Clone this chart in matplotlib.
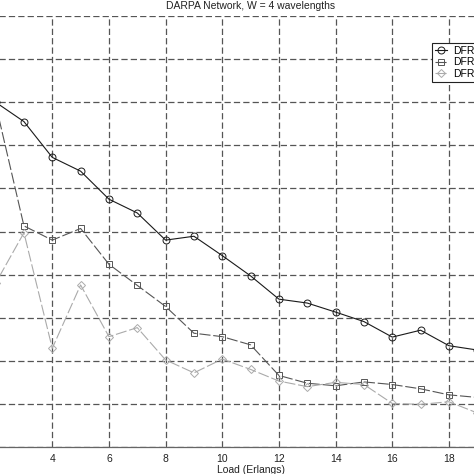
import numpy as np
import matplotlib
matplotlib.use('Agg')
import matplotlib.pyplot as plt

plt.rcParams['font.family'] = ['Liberation Sans', 'DejaVu Sans']

load = [2, 3, 4, 5, 6, 7, 8, 9, 10, 11, 12, 13, 14, 15, 16, 17, 18, 19, 20]
series_a = [8.0, 7.55, 6.72, 6.40, 5.75, 5.43, 4.80, 4.89, 4.44, 3.97,
            3.43, 3.34, 3.13, 2.91, 2.55, 2.71, 2.35, 2.25, 2.1]
series_b = [7.96, 5.13, 4.80, 5.07, 4.24, 3.75, 3.26, 2.64, 2.56, 2.37,
            1.66, 1.48, 1.42, 1.51, 1.45, 1.35, 1.21, 1.15, 1.1]
series_c = [3.8, 4.97, 2.29, 3.76, 2.56, 2.77, 2.02, 1.72, 2.04, 1.80,
            1.53, 1.40, 1.50, 1.45, 1.01, 0.99, 1.05, 0.79, 0.7]
labels = ['DFR', 'DFR-SP', 'DFR-LU']
xtick_vals = [2, 4, 6, 8, 10, 12, 14, 16, 18, 20]
# the picture is a crop: the first and last tick labels fall outside it
xtick_labels = ['', '4', '6', '8', '10', '12', '14', '16', '18', '']

fig = plt.figure(figsize=(4.74, 4.74), dpi=100)
W, H = 474.0, 474.0
# axes extends past the left/right of the (cropped) picture
ax = fig.add_axes([-4.4 / W, 27 / H, 510 / W, 431 / H])

ax.plot(load, series_a, color='#1a1a1a', lw=0.8, marker='o', ms=5,
        mfc='none', mec='#1a1a1a', mew=0.7, label=labels[0])
ax.plot(load, series_b, color='#555555', lw=0.8, ls=(0, (10, 2.5)), marker='s', ms=4.5,
        mfc='none', mec='#555555', mew=0.7, label=labels[1])
ax.plot(load, series_c, color='#aaaaaa', lw=0.8, ls=(0, (10, 2.5)), marker='D', ms=3.8,
        mfc='none', mec='#aaaaaa', mew=0.7, label=labels[2])

ax.set_xlim(2, 20)
ax.set_ylim(0, 10)
ax.set_xticks(xtick_vals)
ax.set_xticklabels(xtick_labels)
ax.set_yticks(np.arange(0, 11, 1))
ax.grid(True, color='#555555', lw=0.9, ls=(0, (5, 2.5)))
ax.set_axisbelow(True)
ax.tick_params(direction='in', length=0, labelsize=7.5, pad=5, colors='#222222')
ax.tick_params(axis='y', labelleft=False)

ax.spines['top'].set_visible(False)
ax.spines['right'].set_visible(False)
ax.spines['bottom'].set_color('#666666')
ax.spines['bottom'].set_linewidth(0.9)

ax.set_title('DARPA Network, W = 4 wavelengths', fontsize=7.5, pad=5, color='#222222')
ax.set_xlabel('Load (Erlangs)', fontsize=7.5, labelpad=0.5, color='#222222')

leg = fig.legend(loc='upper left', bbox_to_anchor=(432.3 / W, 1 - 42.7 / H),
                 bbox_transform=fig.transFigure, fontsize=7.5, frameon=True,
                 fancybox=False, edgecolor='#222222', framealpha=1,
                 handlelength=1.1, handletextpad=0.6, labelspacing=0.15,
                 borderpad=0.3, borderaxespad=0)
leg.get_frame().set_linewidth(0.8)

fig.savefig('out.png', dpi=100)
